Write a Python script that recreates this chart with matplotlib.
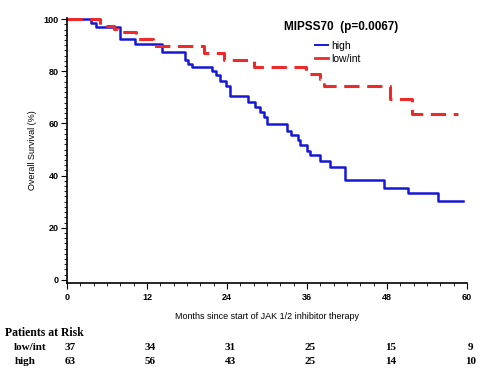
import numpy as np
import matplotlib
matplotlib.use("Agg")
import matplotlib.pyplot as plt
from matplotlib.ticker import MultipleLocator
from matplotlib.transforms import blended_transform_factory

# Kaplan-Meier steps (months, % surviving)
high_t = [0, 3.6, 4.3, 8.0, 10.2, 14.3, 17.7, 18.2, 18.7, 21.7, 22.3, 23.0,
          23.8, 24.5, 27.2, 28.2, 29.0, 29.5, 30.0, 33.0, 33.6, 34.7, 35.0,
          36.0, 36.4, 38.0, 39.5, 41.7, 47.6, 51.2, 55.7, 59.4]
high_s = [100, 98.4, 96.9, 92.3, 90.6, 87.4, 84.3, 82.9, 81.5, 80.0, 78.4, 76.2,
          74.2, 70.6, 68.3, 66.4, 64.5, 62.6, 59.9, 57.2, 55.6, 53.5, 51.6,
          49.6, 47.8, 45.6, 43.4, 38.3, 35.1, 33.5, 30.1, 30.1]

low_t = [0, 5.0, 7.0, 7.7, 10.4, 12.9, 20.5, 23.6, 28.0, 35.8, 38.0, 38.5,
         48.4, 51.7, 58.7]
low_s = [100, 97.4, 96.4, 94.9, 92.4, 89.6, 86.9, 84.2, 81.6, 79.0, 77.0, 74.5,
         69.4, 63.7, 63.7]

risk_times = [0, 12, 24, 36, 48, 60]
risk_low = [37, 34, 31, 25, 15, 9]
risk_high = [63, 56, 43, 25, 14, 10]

title_txt = "MIPSS70  (p=0.0067)"

plt.rcParams['font.family'] = ['Liberation Sans', 'DejaVu Sans']

fig = plt.figure(figsize=(5.0, 3.76), dpi=100)
ax = fig.add_axes([0.134, 0.2473, 0.8, 0.706])

blue = '#1616d8'
red = '#ec2a2a'
ax.step(high_t, high_s, where='post', color=blue, lw=1.8, label='high')
ax.step(low_t, low_s, where='post', color=red, lw=2.2, dashes=(5.0, 2.5),
        label='low/int')

ax.set_xlim(0, 60)
ax.set_ylim(-1.2, 100.6)
ax.xaxis.set_major_locator(MultipleLocator(12))
ax.xaxis.set_minor_locator(MultipleLocator(2))
ax.yaxis.set_major_locator(MultipleLocator(20))
ax.yaxis.set_minor_locator(MultipleLocator(2))
ax.set_yticks([0, 20, 40, 60, 80, 100])
ax.tick_params(which='major', length=4, width=0.8, labelsize=6.5, pad=2)
ax.tick_params(axis='x', which='major', pad=3.5)
ax.tick_params(which='minor', length=2, width=0.6)
for lab in ax.get_xticklabels() + ax.get_yticklabels():
    lab.set_fontweight('bold')
ax.spines['top'].set_visible(False)
ax.spines['right'].set_visible(False)
ax.spines['left'].set_linewidth(1.2)
ax.spines['bottom'].set_linewidth(1.2)

ax.set_ylabel('Overall Survival (%)', fontsize=6.5, labelpad=5)
ax.set_xlabel('Months since start of JAK 1/2 inhibitor therapy', fontsize=6.5,
              labelpad=7)

# legend: title on its own, entries below it
fig.text(341 / 500, 1 - 27 / 376, title_txt, fontsize=8.5, fontweight='bold',
         ha='center', va='center')
h_high = plt.Line2D([], [], color=blue, lw=1.4)
h_low = plt.Line2D([], [], color=red, lw=2.0)
ax.legend([h_high, h_low], ['high', 'low/int'], loc='upper left',
          bbox_to_anchor=(315 / 500, 1 - 41 / 376),
          bbox_transform=fig.transFigure, borderaxespad=0, borderpad=0,
          frameon=False, fontsize=7.5, handlelength=1.25, handletextpad=0.3,
          labelspacing=0.3)

# numbers at risk table
serif = ['Liberation Serif', 'DejaVu Serif']
fig.text(0.01, 1 - 333 / 376, 'Patients at Risk', family=serif,
         fontweight='bold', fontsize=8.5, va='center', ha='left')
fig.text(0.028, 1 - 347 / 376, 'low/int', family=serif,
         fontweight='bold', fontsize=8, va='center', ha='left')
fig.text(0.03, 1 - 361 / 376, 'high', family=serif,
         fontweight='bold', fontsize=8, va='center', ha='left')
tr = blended_transform_factory(ax.transData, fig.transFigure)
for t, a, b in zip(risk_times, risk_low, risk_high):
    ax.text(t + 0.5, 1 - 347 / 376, str(a), transform=tr, family=serif,
            fontweight='bold', fontsize=8, ha='center', va='center')
    ax.text(t + 0.5, 1 - 361 / 376, str(b), transform=tr, family=serif,
            fontweight='bold', fontsize=8, ha='center', va='center')

fig.savefig('out.png', dpi=100)
